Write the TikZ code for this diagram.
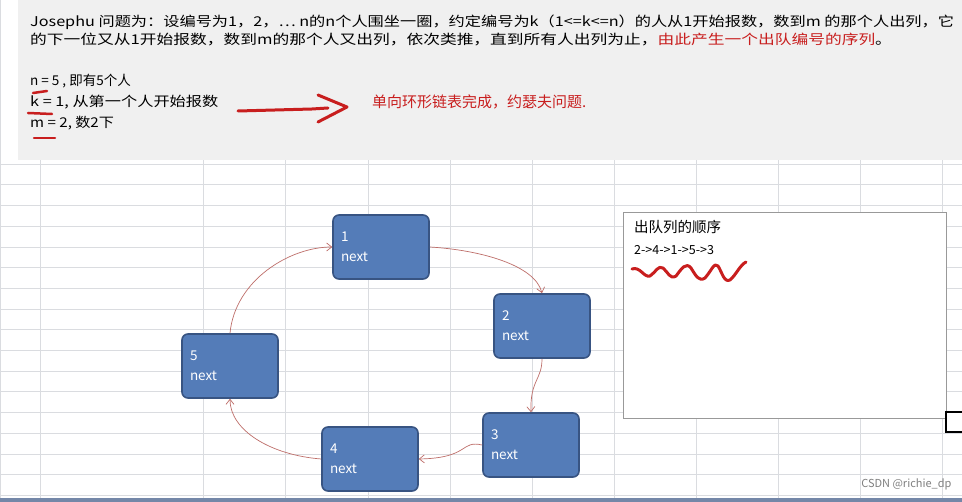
\documentclass[tikz,border=0pt]{standalone}
\usepackage{fontspec}
\usepackage{graphicx}
\setmainfont{Noto Sans CJK SC}
\usetikzlibrary{arrows.meta}
\definecolor{gridgray}{RGB}{218,220,224}
\definecolor{panelgray}{RGB}{240,240,240}
\definecolor{boxblue}{RGB}{84,124,184}
\definecolor{boxedge}{RGB}{56,84,130}
\definecolor{linkred}{RGB}{190,110,105}
\definecolor{textred}{RGB}{200,30,30}
\newcommand{\widen}[2]{\scalebox{#1}[1]{#2}}
\begin{document}
\begin{tikzpicture}[
    x=1pt,y=-1pt,
	person/.style={draw=boxedge, line width=1.6pt, fill=boxblue, rounded corners=6pt, minimum width=96pt, minimum height=64pt, text width=80pt, align=left, text=white, font=\fontsize{13.5}{20}\selectfont},
	link/.style={draw=linkred, -{Straight Barb[length=5pt,width=8pt]}, line width=0.7pt},
	body/.style={anchor=base west, font=\fontsize{13.5}{15}\selectfont, inner sep=0},
	scribble/.style={draw=textred, line width=3pt, line cap=round, line join=round}
]
\useasboundingbox (0,0) rectangle (962,502);
\fill[white] (0,0) rectangle (962,502);

% spreadsheet grid
\foreach \y in {164,184.7,...,500} \draw[gridgray] (0,\y) -- (962,\y);
\foreach \x in {40,203,285,368,450,532,614,696,778,860,942} \draw[gridgray] (\x,160) -- (\x,502);
\draw[gridgray] (0,0) -- (0,502);
\fill[boxedge!70] (0,498) rectangle (962,502);

% description panel
\fill[panelgray] (18,0) rectangle (962,160);
\node[body] (l1) at (30,27) {\widen{1.2}{Josephu 问题为：设编号为1，2，… n的n个人围坐一圈，约定编号为k（1<=k<=n）的人从1开始报数，数到m 的那个人出列，它}};
\node[body] (l2) at (30,45) {\widen{1.24}{的下一位又从1开始报数，数到m的那个人又出列，依次类推，直到所有人出列为止，\textcolor{textred}{由此产生一个出队编号的序列}。}};
\node[body] (ln) at (30,86) {n = 5 , 即有5个人};
\node[body] (lk) at (30,107) {\widen{1.2}{k = 1, 从第一个人开始报数}};
\node[body] (lm) at (30,128) {\widen{1.12}{m = 2, 数2下}};
\node[body, text=textred, font=\fontsize{15}{16}\selectfont] (done) at (372,108) {单向环形链表完成，约瑟夫问题.};
\draw[scribble, line width=2.5pt] (33,93) -- (47,91);
\draw[scribble, line width=2.5pt] (28,113) -- (52,114);
\draw[scribble, line width=2.5pt] (34,138) -- (55,138);
\draw[scribble] (238,111) -- (312,109) -- (328,108);
\draw[scribble] (318,95) -- (347,107) -- (318,122);

% circular list
\node[person] (n1) at (381,247) {1\\next};
\node[person] (n2) at (542,326) {2\\next};
\node[person] (n3) at (531,445) {3\\next};
\node[person] (n4) at (370,459) {4\\next};
\node[person] (n5) at (230,366) {5\\next};
\draw[link] (n1.east) .. controls (480,250) and (535,265) .. (n2.north);
\draw[link] (n2.south) .. controls (542,380) and (530,380) .. (n3.north);
\draw[link] (n3.west) .. controls (460,440) and (470,458) .. (n4.east);
\draw[link] (n4.west) .. controls (270,455) and (230,430) .. (n5.south);
\draw[link] (n5.north) .. controls (235,280) and (290,247) .. (n1.west);

% order box
\node[draw=gray!80, fill=white, minimum width=323pt, minimum height=206pt] (order) at (784.5,315) {};
\node[body, font=\fontsize{14.5}{16}\selectfont] (otitle) at (634,233) {出队列的顺序};
\node[body, font=\fontsize{12.5}{14}\selectfont] (oseq) at (634,255) {2->4->1->5->3};
\draw[scribble] (632,269) .. controls (640,266) and (644,278) .. (650,276) .. controls (656,272) and (658,265) .. (663,268) .. controls (668,272) and (670,280) .. (676,276) .. controls (682,268) and (686,262) .. (691,268) .. controls (696,276) and (699,282) .. (705,278) .. controls (712,270) and (714,262) .. (718,266) .. controls (722,272) and (724,283) .. (730,280) .. controls (736,275) and (740,265) .. (746,262);
\draw[line width=2pt] (962,412) -- (946,412) -- (946,432) -- (962,432);

\node[anchor=south east, text=gray, font=\fontsize{11}{12}\selectfont] (mark) at (955,494) {CSDN @richie\_dp};
\end{tikzpicture}
\end{document}
